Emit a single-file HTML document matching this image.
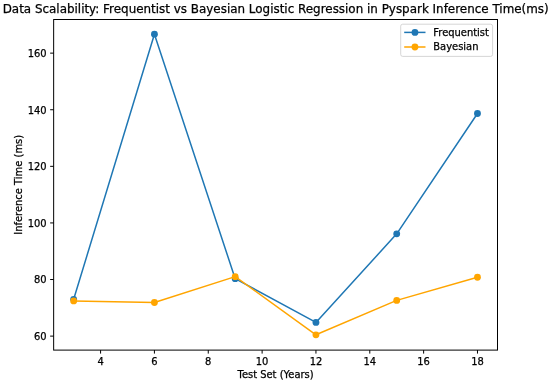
<!DOCTYPE html>
<html lang="en"><head><meta charset="utf-8"><title>Data Scalability</title>
<style>html,body{margin:0;padding:0;background:#fff;overflow:hidden}svg{display:block}text{font-family:"DejaVu Sans","Liberation Sans",sans-serif;fill:#000;stroke:#000;stroke-width:0.25px}</style></head><body>
<svg width="550" height="383" viewBox="0 0 550 383">
<rect width="550" height="383" fill="#fff"/>
<polyline points="73.66,299.30 154.42,34.20 235.19,278.70 315.95,322.45 396.71,233.85 477.47,113.46" fill="none" stroke="#1f77b4" stroke-width="1.5" stroke-linejoin="round" stroke-linecap="butt"/>
<circle cx="73.66" cy="299.30" r="3.42" fill="#1f77b4"/>
<circle cx="154.42" cy="34.20" r="3.42" fill="#1f77b4"/>
<circle cx="235.19" cy="278.70" r="3.42" fill="#1f77b4"/>
<circle cx="315.95" cy="322.45" r="3.42" fill="#1f77b4"/>
<circle cx="396.71" cy="233.85" r="3.42" fill="#1f77b4"/>
<circle cx="477.47" cy="113.46" r="3.42" fill="#1f77b4"/>
<polyline points="73.66,300.90 154.42,302.50 235.19,276.64 315.95,334.80 396.71,300.40 477.47,277.26" fill="none" stroke="#ffa500" stroke-width="1.5" stroke-linejoin="round" stroke-linecap="butt"/>
<circle cx="73.66" cy="300.90" r="3.42" fill="#ffa500"/>
<circle cx="154.42" cy="302.50" r="3.42" fill="#ffa500"/>
<circle cx="235.19" cy="276.64" r="3.42" fill="#ffa500"/>
<circle cx="315.95" cy="334.80" r="3.42" fill="#ffa500"/>
<circle cx="396.71" cy="300.40" r="3.42" fill="#ffa500"/>
<circle cx="477.47" cy="277.26" r="3.42" fill="#ffa500"/>
<rect x="53.65" y="19.5" width="443.85" height="330.60" fill="none" stroke="#000" stroke-width="1"/>
<line x1="100.58" y1="350.1" x2="100.58" y2="353.60" stroke="#000" stroke-width="1"/>
<text x="100.58" y="364.5" font-size="9.94" text-anchor="middle">4</text>
<line x1="154.42" y1="350.1" x2="154.42" y2="353.60" stroke="#000" stroke-width="1"/>
<text x="154.42" y="364.5" font-size="9.94" text-anchor="middle">6</text>
<line x1="208.26" y1="350.1" x2="208.26" y2="353.60" stroke="#000" stroke-width="1"/>
<text x="208.26" y="364.5" font-size="9.94" text-anchor="middle">8</text>
<line x1="262.11" y1="350.1" x2="262.11" y2="353.60" stroke="#000" stroke-width="1"/>
<text x="262.11" y="364.5" font-size="9.94" text-anchor="middle">10</text>
<line x1="315.95" y1="350.1" x2="315.95" y2="353.60" stroke="#000" stroke-width="1"/>
<text x="315.95" y="364.5" font-size="9.94" text-anchor="middle">12</text>
<line x1="369.79" y1="350.1" x2="369.79" y2="353.60" stroke="#000" stroke-width="1"/>
<text x="369.79" y="364.5" font-size="9.94" text-anchor="middle">14</text>
<line x1="423.63" y1="350.1" x2="423.63" y2="353.60" stroke="#000" stroke-width="1"/>
<text x="423.63" y="364.5" font-size="9.94" text-anchor="middle">16</text>
<line x1="477.47" y1="350.1" x2="477.47" y2="353.60" stroke="#000" stroke-width="1"/>
<text x="477.47" y="364.5" font-size="9.94" text-anchor="middle">18</text>
<line x1="50.15" y1="336.12" x2="53.65" y2="336.12" stroke="#000" stroke-width="1"/>
<text x="46.65" y="339.90" font-size="9.94" text-anchor="end">60</text>
<line x1="50.15" y1="279.52" x2="53.65" y2="279.52" stroke="#000" stroke-width="1"/>
<text x="46.65" y="283.30" font-size="9.94" text-anchor="end">80</text>
<line x1="50.15" y1="222.93" x2="53.65" y2="222.93" stroke="#000" stroke-width="1"/>
<text x="46.65" y="226.71" font-size="9.94" text-anchor="end">100</text>
<line x1="50.15" y1="166.33" x2="53.65" y2="166.33" stroke="#000" stroke-width="1"/>
<text x="46.65" y="170.11" font-size="9.94" text-anchor="end">120</text>
<line x1="50.15" y1="109.74" x2="53.65" y2="109.74" stroke="#000" stroke-width="1"/>
<text x="46.65" y="113.52" font-size="9.94" text-anchor="end">140</text>
<line x1="50.15" y1="53.14" x2="53.65" y2="53.14" stroke="#000" stroke-width="1"/>
<text x="46.65" y="56.92" font-size="9.94" text-anchor="end">160</text>
<text x="275.57" y="378.2" font-size="9.94" text-anchor="middle">Test Set (Years)</text>
<text transform="translate(21.5,184.80) rotate(-90)" font-size="9.94" text-anchor="middle">Inference Time (ms)</text>
<text x="275.68" y="13.45" font-size="11.93" text-anchor="middle">Data Scalability: Frequentist vs Bayesian Logistic Regression in Pyspark Inference Time(ms)</text>
<rect x="400.7" y="24.2" width="91.9" height="32.2" rx="2" ry="2" fill="#fff" fill-opacity="0.8" stroke="#ccc" stroke-opacity="0.8" stroke-width="1"/>
<line x1="404.2" y1="32.4" x2="425.5" y2="32.4" stroke="#1f77b4" stroke-width="1.5"/>
<circle cx="414.95" cy="32.4" r="3.42" fill="#1f77b4"/>
<text x="433.3" y="35.9" font-size="9.94">Frequentist</text>
<line x1="404.2" y1="47.0" x2="425.5" y2="47.0" stroke="#ffa500" stroke-width="1.5"/>
<circle cx="414.95" cy="47.0" r="3.42" fill="#ffa500"/>
<text x="433.3" y="50.45" font-size="9.94">Bayesian</text>
</svg></body></html>
